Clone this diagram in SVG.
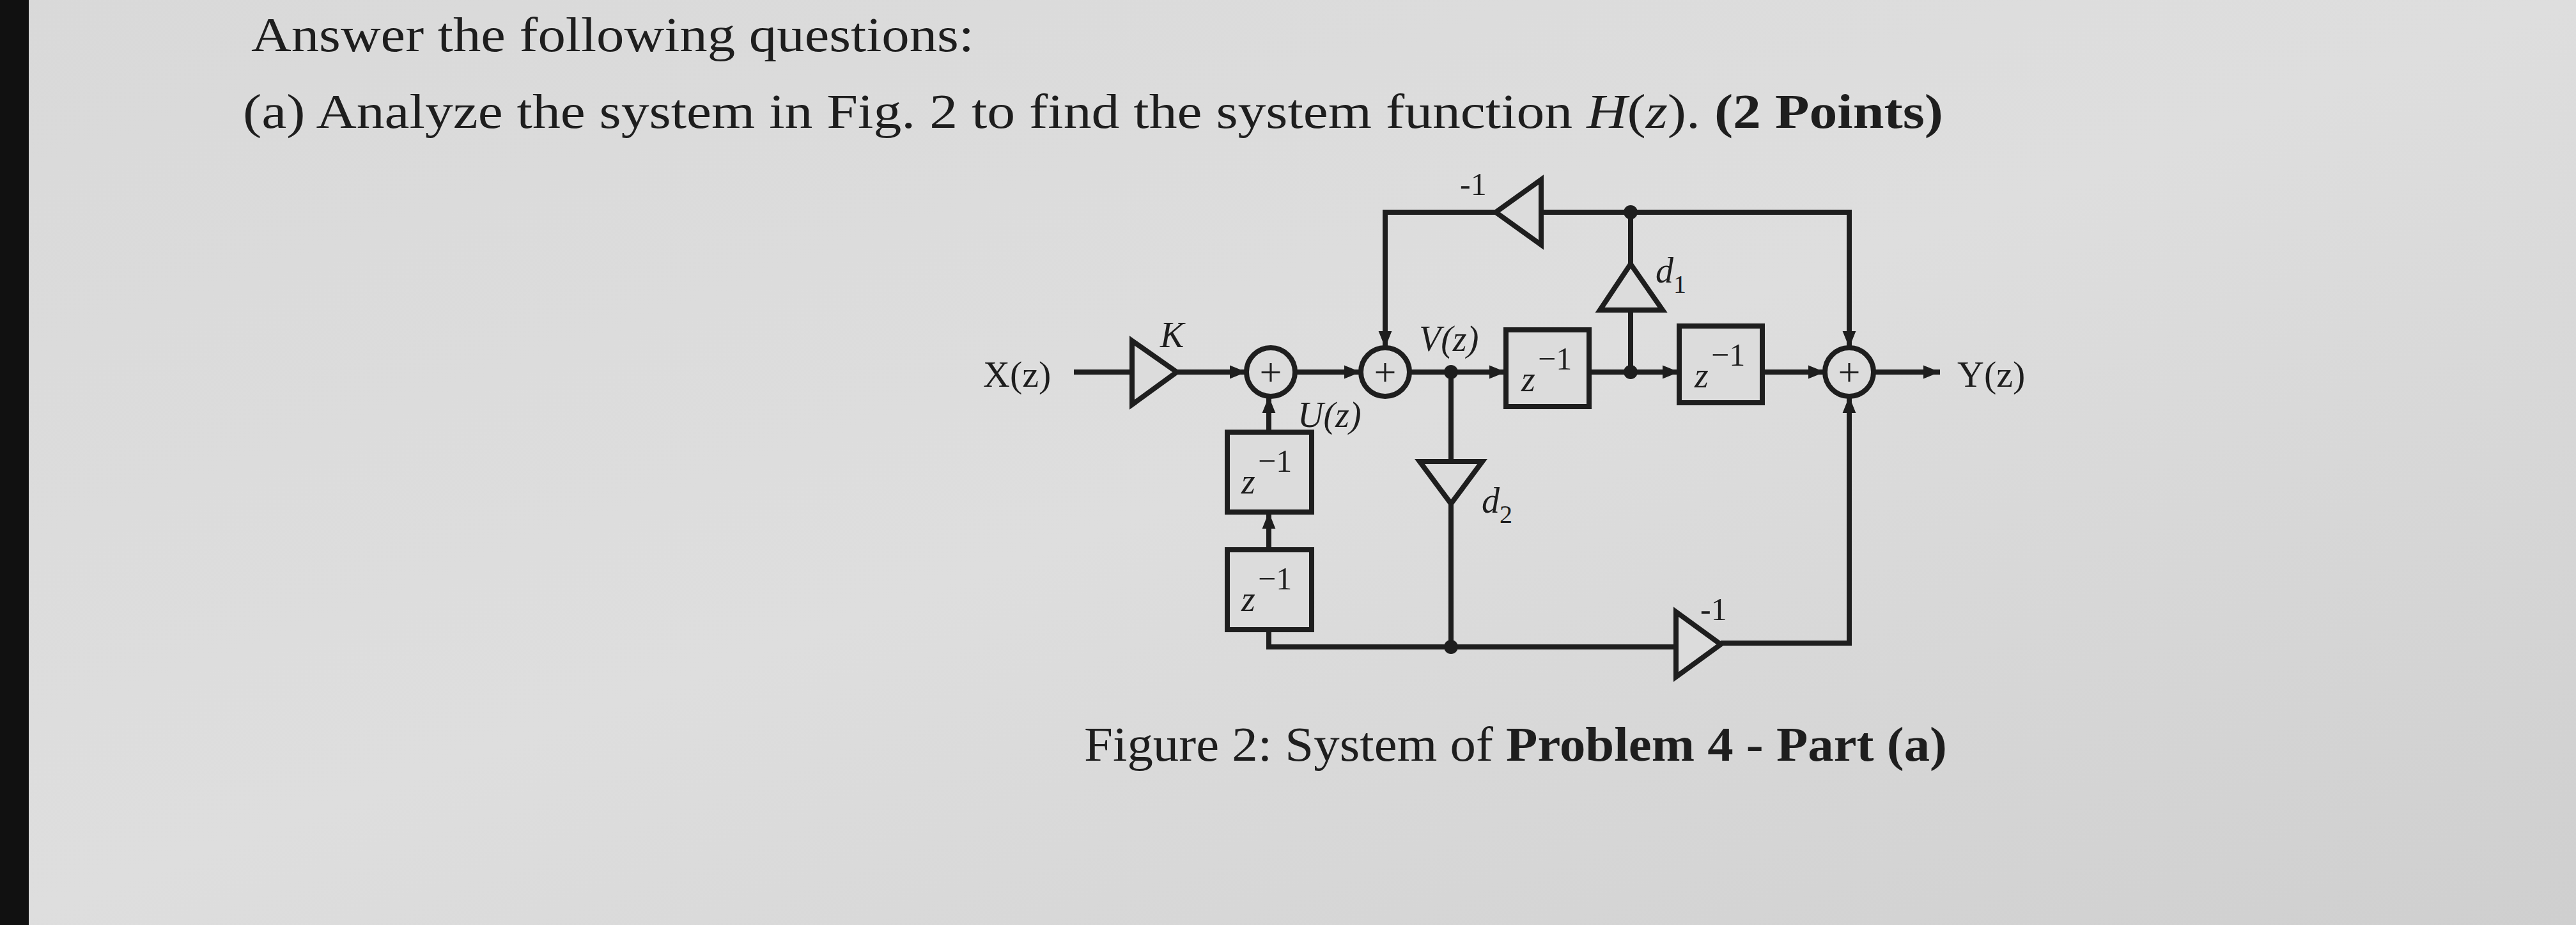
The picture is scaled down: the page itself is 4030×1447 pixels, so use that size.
<svg xmlns="http://www.w3.org/2000/svg" width="4030" height="1447" viewBox="0 0 4030 1447">
<defs>
<linearGradient id="bg" x1="0" y1="0" x2="1" y2="1">
<stop offset="0" stop-color="#d9d9d9"/><stop offset="0.5" stop-color="#dedede"/><stop offset="1" stop-color="#cfcfcf"/>
</linearGradient>
<marker id="ar" viewBox="0 0 10 10" refX="10" refY="5" markerWidth="26" markerHeight="26" markerUnits="userSpaceOnUse" orient="auto"><path d="M0,1 L10,5 L0,9 z" fill="#1e1e1e"/></marker>
</defs>
<style>
.w{stroke:#1e1e1e;stroke-width:8;fill:none}
.b{stroke:#1e1e1e;stroke-width:8;fill:#dcdcdc}
.t{font-family:"Liberation Serif",serif;fill:#1e1e1e}
.i{font-family:"Liberation Serif",serif;font-style:italic;fill:#1e1e1e}
.d{fill:#1e1e1e}
</style>
<rect width="4030" height="1447" fill="url(#bg)"/>
<rect width="45" height="1447" fill="#111"/>
<text class="t" x="393" y="80" font-size="76" textLength="1131" lengthAdjust="spacingAndGlyphs">Answer the following questions:</text>
<text class="t" x="380" y="200" font-size="76" textLength="2660" lengthAdjust="spacingAndGlyphs">(a)  Analyze the system in Fig. 2 to find the system function <tspan class="i">H</tspan>(<tspan class="i">z</tspan>). <tspan font-weight="bold">(2 Points)</tspan></text>
<text class="t" x="1696" y="1190" font-size="76" textLength="1350" lengthAdjust="spacingAndGlyphs">Figure 2: System of <tspan font-weight="bold">Problem 4 - Part (a)</tspan></text>
<g id="connectors">
<line class="w" x1="1680" y1="582" x2="1771" y2="582"/>
<line class="w" x1="1841" y1="582" x2="1950" y2="582" marker-end="url(#ar)"/>
<line class="w" x1="2026" y1="582" x2="2129" y2="582" marker-end="url(#ar)"/>
<line class="w" x1="2205" y1="582" x2="2356" y2="582" marker-end="url(#ar)"/>
<line class="w" x1="2486" y1="582" x2="2627" y2="582" marker-end="url(#ar)"/>
<line class="w" x1="2757" y1="582" x2="2855" y2="582" marker-end="url(#ar)"/>
<line class="w" x1="2931" y1="582" x2="3035" y2="582" marker-end="url(#ar)"/>
<polyline class="w" points="2893,520 2893,332 2411,332"/>
<polyline class="w" points="2893,332 2893,544" marker-end="url(#ar)"/>
<polyline class="w" points="2340,332 2167,332 2167,544" marker-end="url(#ar)"/>
<line class="w" x1="2551" y1="582" x2="2551" y2="485"/>
<line class="w" x1="2551" y1="413" x2="2551" y2="332"/>
<line class="w" x1="2270" y1="582" x2="2270" y2="722"/>
<line class="w" x1="2270" y1="788" x2="2270" y2="1012"/>
<polyline class="w" points="1985,985 1985,1012 2622,1012"/>
<polyline class="w" points="2692,1006 2893,1006 2893,620" marker-end="url(#ar)"/>
<line class="w" x1="1985" y1="857" x2="1985" y2="801" marker-end="url(#ar)"/>
<line class="w" x1="1985" y1="676" x2="1985" y2="620" marker-end="url(#ar)"/>
<circle class="d" cx="2270" cy="582" r="11"/>
<circle class="d" cx="2551" cy="582" r="11"/>
<circle class="d" cx="2551" cy="332" r="11"/>
<circle class="d" cx="2270" cy="1012" r="11"/>
</g>
<text class="t" x="1538" y="605" font-size="58">X(z)</text>
<text class="t" x="3062" y="605" font-size="58">Y(z)</text>
<g id="gainK"><polygon class="b" points="1771,533 1771,633 1841,582"/><text class="i" x="1815" y="543" font-size="56">K</text></g>
<g id="sum1"><circle class="b" cx="1988" cy="582" r="38"/><text class="t" x="1988" y="603" font-size="62" text-anchor="middle">+</text></g>
<g id="sum2"><circle class="b" cx="2167" cy="582" r="38"/><text class="t" x="2167" y="603" font-size="62" text-anchor="middle">+</text></g>
<g id="sum3"><circle class="b" cx="2893" cy="582" r="38"/><text class="t" x="2893" y="603" font-size="62" text-anchor="middle">+</text></g>
<text class="i" x="2220" y="549" font-size="56">V(z)</text>
<text class="i" x="2030" y="668" font-size="56">U(z)</text>
<g id="delay1"><rect class="b" x="2356" y="516" width="130" height="120"/><text class="i" x="2380" y="612" font-size="56">z</text><text class="t" x="2406" y="578" font-size="50">−1</text></g>
<g id="delay2"><rect class="b" x="2627" y="510" width="130" height="120"/><text class="i" x="2651" y="606" font-size="56">z</text><text class="t" x="2677" y="572" font-size="50">−1</text></g>
<g id="delay3"><rect class="b" x="1920" y="676" width="132" height="125"/><text class="i" x="1942" y="772" font-size="56">z</text><text class="t" x="1968" y="738" font-size="50">−1</text></g>
<g id="delay4"><rect class="b" x="1920" y="860" width="132" height="125"/><text class="i" x="1942" y="956" font-size="56">z</text><text class="t" x="1968" y="922" font-size="50">−1</text></g>
<g id="gainTop"><polygon class="b" points="2411,281 2411,383 2340,332"/><text class="t" x="2284" y="305" font-size="50">-1</text></g>
<g id="gainD1"><polygon class="b" points="2503,485 2601,485 2551,413"/><text class="i" x="2590" y="442" font-size="56">d</text><text class="t" x="2618" y="458" font-size="40">1</text></g>
<g id="gainD2"><polygon class="b" points="2221,722 2319,722 2270,788"/><text class="i" x="2318" y="802" font-size="56">d</text><text class="t" x="2346" y="818" font-size="40">2</text></g>
<g id="gainBot"><polygon class="b" points="2622,957 2622,1059 2692,1008"/><text class="t" x="2660" y="970" font-size="50">-1</text></g>
</svg>
